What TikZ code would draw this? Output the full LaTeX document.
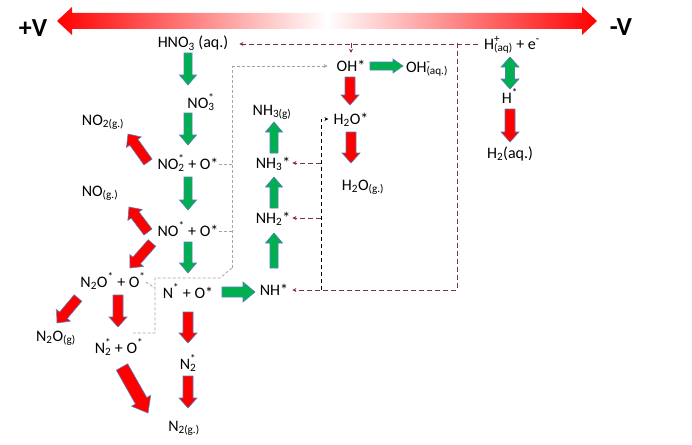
\documentclass[tikz,border=0pt]{standalone}
\usepackage{fontspec}
\setmainfont{Carlito}
\usetikzlibrary{calc,arrows.meta}
\definecolor{agreen}{RGB}{0,176,80}
\definecolor{aedge}{RGB}{84,126,184}
\definecolor{dmaroon}{RGB}{128,44,68}
\definecolor{dgrey}{RGB}{165,165,165}
\newcommand\supsub[2]{\rlap{\textsuperscript{#1}}\textsubscript{#2}}
% block arrow: style, from, to, shaft half width, head half width, head length
\newcommand\barrow[6]{\path[#1] let \p1=#2, \p2=#3, \n1={atan2(\y2-\y1,\x2-\x1)}, \n2={veclen(\x2-\x1,\y2-\y1)} in
  [shift={(\p1)},rotate=\n1] (0pt,#4pt) -- ({\n2-#6pt},#4pt) -- ({\n2-#6pt},#5pt) -- (\n2,0pt)
  -- ({\n2-#6pt},-#5pt) -- ({\n2-#6pt},-#4pt) -- (0pt,-#4pt) -- cycle;}
\newcommand\dbarrow[6]{\path[#1] let \p1=#2, \p2=#3, \n1={atan2(\y2-\y1,\x2-\x1)}, \n2={veclen(\x2-\x1,\y2-\y1)} in
  [shift={(\p1)},rotate=\n1] (0pt,0pt) -- (#6pt,#5pt) -- (#6pt,#4pt) -- ({\n2-#6pt},#4pt) -- ({\n2-#6pt},#5pt) -- (\n2,0pt)
  -- ({\n2-#6pt},-#5pt) -- ({\n2-#6pt},-#4pt) -- (#6pt,-#4pt) -- (#6pt,-#5pt) -- cycle;}
\tikzset{
  lbl/.style={inner sep=0pt, text height=12pt, text depth=2pt},
  garr/.style={fill=agreen, draw=aedge, line width=.6pt},
  rarr/.style={fill=red, draw=aedge, line width=.6pt},
  dmar/.style={draw=dmaroon, line width=.9pt, dash pattern=on 5pt off 3pt, -{Stealth[length=4pt,width=4pt]}},
  dblk/.style={draw=black, line width=.8pt, dash pattern=on 4pt off 3pt, -{Stealth[length=4pt,width=4pt]}},
  dgr/.style={draw=dgrey, line width=.8pt, dash pattern=on 3pt off 2pt}
}
\begin{document}
\begin{tikzpicture}[x=1pt, y=-1pt, font=\fontsize{16}{19}\selectfont]
  \useasboundingbox (0,0) rectangle (692,444);
  \shade[left color=red, right color=red, middle color=white] (57,21) -- (72,7) -- (72,13) -- (582,13) -- (582,7)
        -- (597,21) -- (582,35) -- (582,29) -- (72,29) -- (72,35) -- cycle;
  \node[font=\bfseries\fontsize{26}{28}\selectfont] (pv) at (33,28) {+V};
  \node[font=\bfseries\fontsize{26}{28}\selectfont] (mv) at (621,27) {-V};

  \node[lbl] (hno3) at (193,43) {HNO\textsubscript{3} (aq.)};
  \node[lbl] (no3) at (201,103) {NO\supsub{*}{3}};
  \node[lbl] (no2) at (188,164) {NO\supsub{*}{2} + O*};
  \node[lbl] (no2g) at (103,120) {NO\textsubscript{2(g.)}};
  \node[lbl] (no) at (188,231) {NO\textsuperscript{*} + O*};
  \node[lbl] (nog) at (100,191) {NO\textsubscript{(g.)}};
  \node[lbl] (n2o) at (113,282) {N\textsubscript{2}O\textsuperscript{*} + O\textsuperscript{*}};
  \node[lbl] (n2og) at (56,336) {N\textsubscript{2}O\textsubscript{(g)}};
  \node[lbl] (n2o2) at (119,348) {N\supsub{*}{2} + O\textsuperscript{*}};
  \node[lbl] (nn) at (188,293) {N\textsuperscript{*} + O*};
  \node[lbl] (n2s) at (188,364) {N\supsub{*}{2}};
  \node[lbl] (n2g) at (184,426) {N\textsubscript{2(g.)}};
  \node[lbl] (nh) at (274,290) {NH*};
  \node[lbl] (nh2) at (273,218) {NH\textsubscript{2}*};
  \node[lbl] (nh3) at (273,163) {NH\textsubscript{3}*};
  \node[lbl] (nh3g) at (272,110) {NH\textsubscript{3(g)}};
  \node[lbl] (oh) at (351,66) {OH*};
  \node[lbl] (ohaq) at (427,67) {OH\supsub{-}{(aq.)}};
  \node[lbl] (h2o) at (351,119) {H\textsubscript{2}O*};
  \node[lbl] (h2og) at (363,185) {H\textsubscript{2}O\textsubscript{(g.)}};
  \node[lbl] (hplus) at (512,44) {H\supsub{+}{(aq)} + e\textsuperscript{-}};
  \node[lbl] (hs) at (510,98) {H\textsuperscript{*}};
  \node[lbl] (h2aq) at (510,153) {H\textsubscript{2}(aq.)};

  \coordinate (mj) at (457,43);
  \coordinate (bj) at (321,290);
  \coordinate (gt) at (232,66);
  \coordinate (gb) at (232,268);

  \draw[dgr] (gb) -- (gt);
  \draw[dgr, -{Stealth[length=4pt,width=4pt]}, shorten >=9pt] (gt) -- (gt -| oh.west);
  \draw[dgr] (no2.east) -- (no2.east -| gt) (no.east) -- (no.east -| gt);
  \draw[dgr] (gb) -- (220,278) -- (155,278) -- (155,333) -- (133,333) (n2o.east) -- (155,288);

  \draw[dmar, shorten <=6pt, shorten >=11pt] (hplus.west) -- (hplus.west -| hno3.east);
  \draw[dmar, shorten >=6pt] (oh.north |- mj) -- (oh.north);
  \draw[dmar, shorten >=4pt] (mj) |- (nh.east);
  \draw[dblk, shorten >=5pt] (bj) |- (h2o.west);
  \draw[dmar, shorten >=2pt] (bj |- nh3) -- (nh3.east);
  \draw[dmar, shorten >=2pt] (bj |- nh2) -- (nh2.east);

  \barrow{garr}{($(hno3)+(-5,10)$)}{($(no3)+(-13,-18)$)}{4}{8.5}{10}
  \barrow{garr}{($(no3)+(-13,10)$)}{($(no2)+(0,-19)$)}{4}{8.5}{10}
  \barrow{garr}{($(no2)+(0,13)$)}{($(no)+(0,-21)$)}{4}{8.5}{10}
  \barrow{garr}{($(no)+(0,11)$)}{($(nn)+(0,-20)$)}{4}{8.5}{10}
  \barrow{garr}{($(nh)+(0,-22)$)}{($(nh2)+(1,15)$)}{4}{8.5}{10}
  \barrow{garr}{($(nh2)+(1,-10)$)}{($(nh3)+(1,14)$)}{4}{8.5}{10}
  \barrow{garr}{($(nh3)+(1,-10)$)}{($(nh3g)+(2,12)$)}{4}{8.5}{10}
  \barrow{garr}{($(nn)+(34,-1)$)}{($(nh)+(-19,2)$)}{5}{10}{12}
  \barrow{garr}{($(oh)+(19,0)$)}{($(ohaq)+(-24,-1)$)}{4}{7}{10}
  \dbarrow{garr}{($(hplus)+(-2,13)$)}{($(hs)+(0,-9)$)}{4.5}{9}{10}

  \barrow{rarr}{($(oh)+(-1,11)$)}{($(h2o)+(-1,-14)$)}{5}{9}{10}
  \barrow{rarr}{($(h2o)+(0,13)$)}{($(h2og)+(-12,-22)$)}{5}{9}{10}
  \barrow{rarr}{($(hs)+(0,11)$)}{($(h2aq)+(0,-11)$)}{5}{9}{10}
  \barrow{rarr}{($(nn)+(0,19)$)}{($(n2s)+(0,-21)$)}{5}{9}{10}
  \barrow{rarr}{($(n2s)+(0,12)$)}{($(n2g)+(4,-18)$)}{5}{9}{10}
  \barrow{rarr}{($(n2o)+(5,13)$)}{($(n2o2)+(-1,-21)$)}{5}{9}{10}
  \barrow{rarr}{($(n2o)+(-35,16)$)}{($(n2og)+(1,-13)$)}{5}{9}{10}
  \barrow{rarr}{($(n2o2)+(3,19)$)}{($(n2g)+(-36,-13)$)}{6.5}{11}{14}
  \barrow{rarr}{($(no2)+(-40,-2)$)}{($(no2g)+(25,14)$)}{5}{9}{10}
  \barrow{rarr}{($(no)+(-40,1)$)}{($(nog)+(29,16)$)}{5}{9}{10}
  \barrow{rarr}{($(no)+(-36,12)$)}{($(n2o)+(17,-14)$)}{5}{9}{10}
\end{tikzpicture}
\end{document}
